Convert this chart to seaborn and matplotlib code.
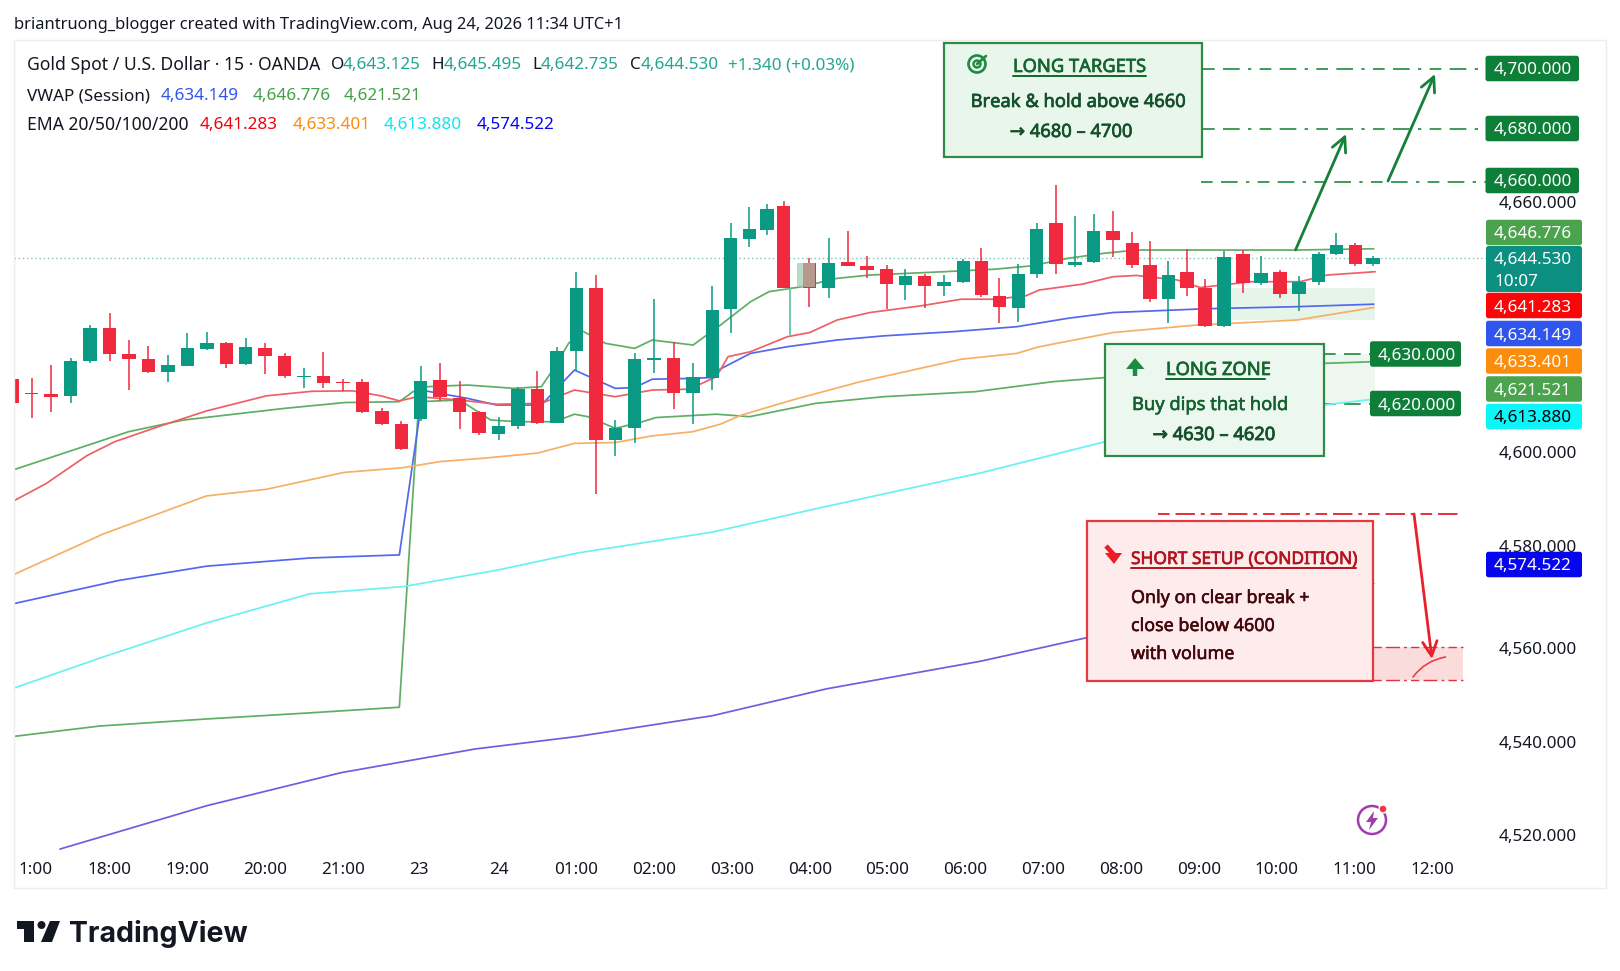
import numpy as np
import pandas as pd
import matplotlib
matplotlib.use("Agg")
import matplotlib.pyplot as plt
import matplotlib.patheffects as pe
import seaborn as sns
from matplotlib.patches import Rectangle, FancyBboxPatch, Circle, Polygon

sns.set_theme(style="white")
plt.rcParams["font.family"] = ["Noto Sans", "DejaVu Sans"]

# candles (15 min bars), slot = bar position on the time axis
slots = [0, 1, 2, 3, 4, 5, 6, 7, 8, 9, 10, 11, 12, 13, 14, 15, 16, 17, 18, 19, 20, 21, 22, 23,
         24, 25, 26, 27, 28, 29, 30, 31, 32, 33, 34, 35, 36, 36.94, 37.89, 38.8, 39.66, 40.98,
         41.97, 42.96, 43.95, 44.95, 45.91, 46.9, 47.9, 48.89, 49.83, 50.75, 51.72, 52.67,
         53.66, 54.63, 55.59, 56.59, 57.58, 58.5, 59.44, 60.39, 61.33, 62.3, 63.27, 64.21,
         65.18, 66.15, 67.16, 68.08, 69.05, 69.95]
opens = [4617.5, 4614.2, 4613.9, 4613.4, 4621.7, 4629.8, 4623.5, 4622.3, 4619.1, 4620.6, 4624.7,
         4626.2, 4621.1, 4625.0, 4622.9, 4617.9, 4618.2, 4616.7, 4616.7, 4609.8, 4606.7, 4607.9,
         4617.2, 4613.0, 4609.5, 4604.3, 4606.1, 4615.0, 4607.0, 4624.2, 4639.2, 4602.9, 4605.7,
         4621.9, 4622.5, 4614.1, 4617.8, 4634.2, 4651.1, 4653.3, 4659.0, 4645.4, 4639.4, 4645.5,
         4644.6, 4643.8, 4640.0, 4642.2, 4639.7, 4640.7, 4645.7, 4637.4, 4634.6, 4642.6, 4655.0,
         4644.7, 4645.5, 4653.0, 4650.1, 4644.8, 4636.6, 4643.2, 4639.4, 4630.2, 4647.4, 4640.6,
         4643.1, 4637.9, 4640.7, 4647.5, 4649.7, 4645.0]
highs = [4617.5, 4617.6, 4620.8, 4622.6, 4630.4, 4633.4, 4626.8, 4625.4, 4623.1, 4628.6, 4628.7,
         4626.3, 4627.3, 4626.2, 4623.8, 4620.0, 4624.0, 4617.4, 4617.4, 4610.6, 4607.4, 4620.6,
         4621.3, 4616.9, 4609.8, 4608.4, 4615.6, 4619.3, 4625.2, 4643.1, 4642.4, 4607.6, 4623.7,
         4636.7, 4626.4, 4621.4, 4639.7, 4654.8, 4658.8, 4659.4, 4660.2, 4646.4, 4651.2, 4652.9,
         4647.0, 4644.8, 4643.8, 4642.6, 4642.3, 4646.2, 4648.8, 4641.6, 4645.0, 4655.0, 4663.9,
         4656.6, 4657.1, 4657.8, 4652.7, 4650.5, 4645.8, 4648.6, 4641.4, 4648.2, 4648.4, 4647.0,
         4643.6, 4642.2, 4648.0, 4652.5, 4650.2, 4647.0]
lows = [4611.8, 4608.0, 4609.6, 4611.8, 4621.4, 4621.8, 4614.8, 4619.0, 4616.8, 4620.5, 4624.3,
        4620.2, 4620.9, 4618.7, 4617.8, 4615.3, 4615.4, 4614.6, 4609.4, 4606.4, 4600.4, 4607.4,
        4612.2, 4605.5, 4604.1, 4602.8, 4605.5, 4606.6, 4606.9, 4619.4, 4591.0, 4599.0, 4602.0,
        4619.0, 4610.2, 4606.7, 4614.8, 4628.4, 4649.2, 4652.0, 4639.4, 4634.8, 4636.8, 4644.6,
        4641.8, 4634.2, 4636.4, 4634.6, 4637.4, 4640.6, 4637.2, 4631.0, 4631.2, 4641.8, 4642.6,
        4644.4, 4645.2, 4646.8, 4644.2, 4635.9, 4631.0, 4637.4, 4630.0, 4630.0, 4638.0, 4640.0,
        4636.9, 4633.8, 4640.1, 4647.2, 4644.6, 4644.6]
closes = [4611.8, 4613.8, 4613.1, 4621.8, 4629.8, 4623.4, 4622.2, 4619.2, 4620.8, 4624.8, 4626.0,
          4621.1, 4625.1, 4623.0, 4618.2, 4618.2, 4616.6, 4616.6, 4609.6, 4606.7, 4600.7, 4617.0,
          4613.1, 4609.6, 4604.5, 4606.2, 4615.1, 4607.0, 4624.2, 4639.3, 4602.9, 4605.7, 4622.2,
          4622.5, 4614.1, 4618.0, 4633.9, 4651.2, 4653.5, 4658.2, 4639.4, 4639.4, 4645.4, 4644.6,
          4643.7, 4640.2, 4642.2, 4639.7, 4640.8, 4645.7, 4637.6, 4634.7, 4642.6, 4653.4, 4645.0,
          4645.5, 4653.0, 4650.9, 4644.8, 4636.6, 4642.5, 4639.4, 4630.2, 4646.8, 4640.5, 4643.0,
          4637.8, 4640.7, 4647.4, 4649.6, 4645.0, 4646.4]
ghost_slot = 39.96
ghost_high = 4639.6
ghost_low = 4628.0
last_price_line = 4646.5

# indicators
ema20_x = [0.1, 1.73, 3.85, 5.27, 7.63, 10, 13.06, 15.4, 17.5, 18.96, 19.9, 20.85, 23, 24.9, 27.2, 28.9,
           31, 32.9, 34.8, 36.2, 36.8, 37.96, 39.85, 41, 42.4, 44.1, 46.7, 48.8, 50.5, 52.1, 52.8, 55,
           56.6, 57.8, 59.9, 61.07, 63.7, 66.2, 67.6, 70.07]
ema20_y = [4589.6, 4593.2, 4599.2, 4602.4, 4606.2, 4609.8, 4613.4, 4614.5, 4614.6, 4613.4, 4612.2, 4613.2,
           4612.4, 4611.4, 4611.6, 4614.8, 4613.2, 4614.8, 4615.0, 4618.0, 4622.8, 4624.0, 4627.6, 4628.6,
           4631.6, 4633.4, 4635.0, 4636.6, 4636.6, 4637.4, 4638.8, 4640.2, 4642.0, 4642.3, 4641.2, 4639.4,
           4640.8, 4640.8, 4642.4, 4643.2]
ema50_x = [0.1, 4.68, 9.99, 13.06, 17.07, 20.1, 22, 24.2, 27, 28.9, 31, 32.9, 35, 36.4, 37.5, 40.1, 43.6,
           48.8, 51.65, 52.8, 56.6, 60.9, 66.05, 70]
ema50_y = [4574.4, 4582.5, 4590.6, 4592.0, 4595.6, 4596.6, 4597.9, 4598.6, 4599.7, 4602.0, 4602.2, 4603.8,
           4604.8, 4606.6, 4608.8, 4612.4, 4616.8, 4622.2, 4623.6, 4625.2, 4628.6, 4630.4, 4631.6, 4634.6]
ema100_x = [0.1, 4.68, 9.99, 15.3, 20.1, 24.9, 29.1, 36, 41.9, 49.8, 56.1, 67.4, 70]
ema100_y = [4551.5, 4558.1, 4564.9, 4570.6, 4572.0, 4575.2, 4578.6, 4582.9, 4588.4, 4595.5, 4602.3, 4611.2, 4612.6]
ema200_x = [2.45, 10, 16.9, 23.8, 29.1, 36, 41.85, 49.8, 55.1, 70]
ema200_y = [4517.0, 4526.3, 4533.4, 4538.5, 4541.2, 4545.6, 4551.3, 4557.2, 4561.9, 4572.6]
vwap_x = [0.11, 5.47, 9.99, 15.3, 19.9, 20.92, 21, 23.4, 24.9, 27.2, 28.9, 31, 32, 32.9, 35, 36, 36.3, 37.96,
          39.85, 42.4, 44.8, 48.35, 51.65, 54.25, 56.6, 61.3, 66, 70]
vwap_y = [4568.7, 4573.2, 4576.0, 4577.6, 4578.2, 4608.0, 4614.8, 4612.8, 4611.2, 4611.2, 4619.6, 4615.2, 4615.4,
          4617.4, 4617.6, 4617.8, 4619.6, 4623.6, 4625.2, 4626.8, 4627.8, 4628.8, 4630.0, 4632.0, 4633.4,
          4634.3, 4634.8, 4635.4]
upper_x = [0.1, 5.98, 8.8, 14, 17.1, 19.9, 20.6, 21.3, 23.4, 25.8, 27.2, 27.9, 28.6, 29.3, 30.5, 32, 32.9, 35,
           36.3, 37.96, 38.9, 40.6, 42.4, 44.1, 47.9, 50.5, 52.4, 54.25, 56.1, 57.8, 61.3, 66, 70]
upper_y = [4596.2, 4604.8, 4607.6, 4610.4, 4611.8, 4612.0, 4614.4, 4615.6, 4616.0, 4615.2, 4615.6, 4620.4, 4626.0,
           4629.0, 4626.0, 4624.8, 4626.8, 4625.6, 4630.0, 4636.0, 4638.4, 4639.6, 4641.6, 4642.4, 4643.2, 4643.8,
           4644.6, 4646.4, 4647.6, 4648.4, 4648.4, 4648.4, 4648.7]
lower_x = [0.1, 4.5, 9.99, 15.3, 19.9, 20.9, 23, 24.6, 26, 27.9, 28.9, 29.6, 31, 32.4, 33.1, 36.2, 36.8, 37.9,
           41.3, 44.8, 49.5, 53.5, 56.2, 67.4, 70]
lower_y = [4541.2, 4543.4, 4544.9, 4546.2, 4547.4, 4612.0, 4612.4, 4607.6, 4607.2, 4607.2, 4609.0, 4608.4, 4605.6,
           4607.2, 4608.2, 4609.0, 4608.8, 4608.4, 4611.6, 4613.2, 4614.4, 4616.8, 4617.8, 4621.2, 4621.6]

# axis labels
price_ticks = [4520, 4540, 4560, 4580, 4600, 4660]
price_labels = ["4,520.000", "4,540.000", "4,560.000", "4,580.000", "4,600.000", "4,660.000"]
time_ticks = [1.2, 5, 9, 13, 17, 20.9, 25, 29, 33, 37, 41, 45, 49, 53, 57, 61, 65, 69, 73]
time_labels = ["1:00", "18:00", "19:00", "20:00", "21:00", "23", "24", "01:00", "02:00", "03:00", "04:00",
               "05:00", "06:00", "07:00", "08:00", "09:00", "10:00", "11:00", "12:00"]

# plan levels
target_levels = [4700, 4680, 4660]
zone_levels = [4630, 4620]
short_level = 4600
short_zone = [4560, 4550]

# the price axis of the picture is not even: price -> pixel row
scale_price = np.array([4516.8, 4520, 4540, 4560, 4580, 4600, 4660, 4698.8])
scale_row = np.array([850, 835, 742, 648, 545.7, 451.7, 201.7, 40.0])
level_price = np.array([4516, 4550, 4560, 4600, 4620, 4630, 4660, 4680, 4700, 4707])
level_row = np.array([850, 680, 647, 514, 403.6, 354, 181.7, 129, 69, 40.0])

W, H = 1620, 971
L, R, T, B = 14, 1494, 40, 850
FS = 12.3
INK = "#131722"
UP = "#0A9A83"
DOWN = "#F0293E"


def sx(px):
    return (px - 12.3) / 19.45


def row_scale(prices, rows):
    def forward(v):
        return np.interp(v, prices, -rows)

    def inverse(v):
        return np.interp(v, -rows, prices)
    return forward, inverse


fig = plt.figure(figsize=(W / 100, H / 100), dpi=100, facecolor="white")

# pale zones sit behind the candles
under = fig.add_axes([0, 0, 1, 1], zorder=1)
under.set_xlim(0, W)
under.set_ylim(H, 0)
under.axis("off")
under.add_patch(Rectangle((1232, 288), 143, 32, fc="#DDF0E2", ec="none", alpha=0.7))

ax = fig.add_axes([L / W, 1 - B / H, (R - L) / W, (B - T) / H], zorder=3)
ax_lv = ax.twinx()
ax_lv.set_zorder(2)
ax.yaxis.tick_right()
ax.patch.set_visible(False)

ax.set_yscale("function", functions=row_scale(scale_price, scale_row))
ax.set_ylim(4516.8, 4698.8)
ax.set_xlim(sx(L), sx(R))
ax.set_yticks(price_ticks, price_labels)
ax.set_xticks(time_ticks, time_labels)
ax.tick_params(axis="both", length=0, labelsize=FS, labelcolor=INK)
ax.tick_params(axis="y", pad=3.6)
ax.tick_params(axis="x", pad=8.4)
ax.minorticks_off()
for s in ax.spines.values():
    s.set_visible(False)

ax.hlines(last_price_line, sx(L), sx(1486), color="#7CC4B8", lw=1, ls=(0, (1, 2)), zorder=1, clip_on=False)

# indicators
line_sets = [
    (upper_x, upper_y, "#5FAE66"),
    (lower_x, lower_y, "#5FAE66"),
    (vwap_x, vwap_y, "#5468EE"),
    (ema20_x, ema20_y, "#EE6068"),
    (ema50_x, ema50_y, "#F6B066"),
    (ema100_x, ema100_y, "#6DF0F2"),
    (ema200_x, ema200_y, "#6A60E0"),
]
for xs, ys, col in line_sets:
    sns.lineplot(x=xs, y=ys, color=col, lw=1.25, ax=ax, estimator=None, sort=False, zorder=2)

# candles
df = pd.DataFrame({"slot": slots, "o": opens, "h": highs, "l": lows, "c": closes})
df["col"] = np.where(df["c"] >= df["o"], UP, DOWN)
ax.vlines(ghost_slot, ghost_low, ghost_high, color="#6DBFAE", lw=1.3, zorder=3)
ax.vlines(df["slot"], df["l"], df["h"], colors=df["col"], lw=1.3, zorder=3, alpha=0.85)
ax.bar(df["slot"], (df["c"] - df["o"]).abs(), bottom=df[["o", "c"]].min(axis=1), width=0.69,
       color=df["col"], linewidth=0, zorder=4)

# plan levels on their own scale
ax_lv.set_yscale("function", functions=row_scale(level_price, level_row))
ax_lv.set_ylim(4516, 4707)
ax_lv.set_yticks([])
ax_lv.minorticks_off()
ax_lv.patch.set_visible(False)
for s in ax_lv.spines.values():
    s.set_visible(False)

LEVEL_GREEN = "#1C8A3F"
LEVEL_RED = "#E5303A"
dash_g = (0, (7, 5, 10, 5, 2, 5))
dash_r = (0, (6, 3, 10, 3, 2, 3))
for lv, start in zip(target_levels, [1203, 1203, 1201]):
    ax_lv.hlines(lv, sx(start), sx(1486), color=LEVEL_GREEN, lw=1.2, ls=dash_g, zorder=5)
ax_lv.fill_between([sx(1324), sx(1375)], zone_levels[1], zone_levels[0], color="#EDF7EF", lw=0, zorder=1)
ax_lv.hlines(zone_levels, sx(1324), sx(1371), color=LEVEL_GREEN, lw=1.2, ls=dash_g, zorder=5)
ax_lv.hlines(short_level, sx(1158), sx(1463), color=LEVEL_RED, lw=1.4, ls=dash_r, zorder=5)
ax_lv.fill_between([sx(1373), sx(1463)], short_zone[1], short_zone[0], color="#FBDCDC", lw=0, zorder=1)
ax_lv.hlines(short_zone, sx(1373), sx(1463), color=LEVEL_RED, lw=1, ls=dash_r, zorder=5)

# overlay in picture pixels: frame, boxes, pills and text
ov = fig.add_axes([0, 0, 1, 1], zorder=6)
ov.set_xlim(0, W)
ov.set_ylim(H, 0)
ov.axis("off")
ov.patch.set_visible(False)

ov.add_patch(Rectangle((14, 40), 1592, 848, fc="none", ec="#ECEDF0", lw=1))
ov.add_patch(Rectangle((797, 263), 18, 24, fc="#9FC8B0", ec="none", alpha=0.7, zorder=0.5))


def box(x0, y0, x1, y1, fc, ec):
    ov.add_patch(Rectangle((x0, y0), x1 - x0, y1 - y0, fc=fc, ec=ec, lw=1.6, zorder=2))


def txt(x, y, s, col=INK, size=FS, ha="left", thick=0):
    t = ov.text(x, y + 2, s, color=col, fontsize=size, va="center", ha=ha, zorder=4)
    if thick:
        t.set_path_effects([pe.withStroke(linewidth=thick, foreground=col)])
    return t


def pill(x0, x1, yc, h, label, fc, tc="white"):
    ov.add_patch(FancyBboxPatch((x0, yc - h / 2), x1 - x0, h, boxstyle="round,pad=0,rounding_size=2.5",
                                fc=fc, ec="none", zorder=3))
    txt(x0 + 8, yc, label, tc)


def heading(x0, x1, y, s, col, size):
    txt(x0, y, s, col, size, thick=0.5)
    ov.plot([x0, x1], [y + 11.5, y + 11.5], color=col, lw=1.4, zorder=4)


# right side labels
level_pill = "#0E7F38"
for lab, yc in zip(["4,700.000", "4,680.000", "4,660.000"], [68.5, 128.5, 180.5]):
    pill(1485.5, 1579, yc, 25.5, lab, level_pill)
for lab, yc in zip(["4,630.000", "4,620.000"], [354, 403.5]):
    pill(1370, 1461, yc, 25.5, lab, level_pill)
price_pills = [
    ("4,646.776", 232.5, "#4CA34E", "white"),
    ("4,641.283", 305.5, "#FB0508", "white"),
    ("4,634.149", 333.5, "#2F55EE", "white"),
    ("4,633.401", 361, "#FB8C0C", "white"),
    ("4,621.521", 389, "#4CA34E", "white"),
    ("4,613.880", 416.5, "#0CF5F8", "black"),
    ("4,574.522", 564.5, "#0505EE", "white"),
]
for lab, yc, fc, tc in price_pills:
    pill(1486, 1582, yc, 25.5, lab, fc, tc)
ov.add_patch(FancyBboxPatch((1486, 246), 96, 46, boxstyle="round,pad=0,rounding_size=2.5", fc="#0A8F80", ec="none", zorder=3))
txt(1494, 258.5, "4,644.530", "white")
txt(1494, 280, "10:07", "white")

# long targets
box(944, 43, 1202, 157, "#E9F6EC", "#2E8B47")
heading(1013, 1146, 65, "LONG TARGETS", "#14662E", 13.2)
txt(1078, 100, "Break & hold above 4660", "#14502A", 13.2, "center", 0.5)
txt(1071, 130, "→ 4680 – 4700", "#14502A", 13.2, "center", 0.5)
ov.add_patch(Circle((977, 64), 8.5, fc="none", ec="#1C8A3F", lw=1.9, zorder=4))
ov.add_patch(Circle((977, 64), 3.5, fc="none", ec="#1C8A3F", lw=1.7, zorder=4))
ov.plot([977, 986], [64, 56], color="#1C8A3F", lw=1.9, zorder=4)

# long zone
box(1105, 344, 1324, 456, "#ECF7EF", "#2E8B47")
heading(1166, 1265, 368, "LONG ZONE", "#14662E", 13.2)
txt(1210, 403, "Buy dips that hold", "#14602E", 13.2, "center", 0.4)
txt(1214, 433, "→ 4630 – 4620", "#14502A", 13.2, "center", 0.6)
ov.add_patch(Polygon([(1126, 369), (1135, 358), (1144.5, 369)], fc="#1C8A3F", ec="none", zorder=4))
ov.plot([1135, 1135], [366, 376], color="#1C8A3F", lw=3.2, zorder=4, solid_capstyle="butt")

# short setup
box(1087, 521, 1373, 681, "#FEEBEB", "#E5393F")
heading(1131, 1356, 557, "SHORT SETUP (CONDITION)", "#B0141E", 12.5)
txt(1131, 596, "Only on clear break +", "#43070D", 12.9, thick=0.4)
txt(1131, 624, "close below 4600", "#43070D", 12.9, thick=0.4)
txt(1131, 652, "with volume", "#43070D", 12.9, thick=0.4)
ov.plot([1106, 1117], [546, 558], color="#EE1C25", lw=3.4, zorder=4, solid_capstyle="butt")
ov.add_patch(Polygon([(1105, 553), (1122, 553), (1114, 564)], fc="#EE1C25", ec="none", zorder=4))

# plan arrows
for p0, p1, col in [((1295.5, 250), (1346, 134), "#14803A"), ((1388, 181), (1435, 74), "#14803A"),
                    ((1414, 514), (1432, 659), "#E8202A")]:
    ov.annotate("", xy=p1, xytext=p0, zorder=5,
                arrowprops=dict(arrowstyle="->", color=col, lw=2, mutation_scale=26, shrinkA=0, shrinkB=0))
ov.annotate("", xy=(1445.5, 657), xytext=(1413, 677), zorder=5,
            arrowprops=dict(arrowstyle="-", color="#E8404A", lw=1.2, shrinkA=0, shrinkB=0,
                            connectionstyle="arc3,rad=-0.2"))

# header
txt(14.5, 23, "briantruong_blogger created with TradingView.com, Aug 24, 2026 11:34 UTC+1", size=11.85)
txt(27, 63, "Gold Spot / U.S. Dollar · 15 · OANDA", size=12.65)
TEAL = "#22A68F"
for x, s, col in [(331, "O", INK), (342.5, "4,643.125", TEAL), (431.5, "H", INK), (443.5, "4,645.495", TEAL),
                  (532, "L", INK), (541, "4,642.735", TEAL), (630, "C", INK), (641, "4,644.530", TEAL),
                  (728, "+1.340 (+0.03%)", TEAL)]:
    txt(x, 63, s, col)
txt(27, 94.5, "VWAP (Session)")
for x, s, col in [(160.5, "4,634.149", "#2E55F0"), (253, "4,646.776", "#43A047"), (344, "4,621.521", "#43A047")]:
    txt(x, 94.5, s, col)
txt(27, 123, "EMA 20/50/100/200", size=12.6)
for x, s, col in [(200, "4,641.283", "#F5000A"), (293, "4,633.401", "#FB8C0C"), (383.5, "4,613.880", "#0CE6F0"),
                  (476.5, "4,574.522", "#0505EE")]:
    txt(x, 123, s, col)

# lightning badge
ov.add_patch(Circle((1372, 820), 14, fc="none", ec="#A23BB0", lw=1.8, zorder=4))
ov.add_patch(Polygon([(1374, 811), (1366, 822), (1371, 822), (1369, 830), (1378, 818), (1373, 818)],
                     fc="#A23BB0", ec="none", zorder=4))
ov.add_patch(Circle((1383, 809), 4, fc="#F23645", ec="white", lw=1, zorder=5))

# logo
LOGO = "#131722"
ov.add_patch(Polygon([(17, 921), (34, 921), (34, 942), (24, 942), (24, 929), (17, 929)], fc=LOGO, ec="none"))
ov.add_patch(Circle((41.5, 925), 4, fc=LOGO, ec="none"))
ov.add_patch(Polygon([(50, 921), (60, 921), (52, 942), (41, 942)], fc=LOGO, ec="none"))
ov.text(69, 934.5, "TradingView", color=LOGO, fontsize=20.5, fontweight="bold", va="center", ha="left",
        family="Inter")

fig.canvas.draw()
for lab in ax.get_xticklabels():
    if lab.get_text() == "24":
        lab.set_fontweight("bold")

fig.savefig("out.png", dpi=100, facecolor="white")
